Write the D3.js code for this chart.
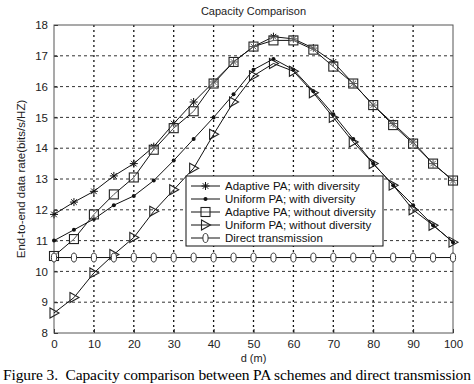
<!DOCTYPE html>
<html>
<head>
<meta charset="utf-8">
<script src="https://cdn.jsdelivr.net/npm/d3@7"></script>
<style>
  body { margin: 0; background: #fff; }
  svg { display: block; }
</style>
</head>
<body>
<div id="chart"></div>
<script>
const dist = d3.range(0, 101, 5);

const adaptiveDiv = [11.85, 12.25, 12.6, 13.1, 13.5, 14.05, 14.8, 15.5, 16.15, 16.8, 17.3, 17.62, 17.55, 17.25, 16.8, 16.1, 15.4, 14.8, 14.2, 13.5, 12.95];
const uniformDiv = [11.0, 11.35, 11.7, 12.15, 12.45, 12.95, 13.6, 14.3, 15.0, 15.75, 16.55, 16.9, 16.55, 15.85, 15.1, 14.3, 13.5, 12.8, 12.15, 11.5, 10.95];
const adaptiveNoDiv = [10.5, 11.05, 11.85, 12.5, 13.05, 13.95, 14.65, 15.2, 16.1, 16.8, 17.3, 17.5, 17.5, 17.2, 16.65, 16.1, 15.4, 14.75, 14.15, 13.5, 12.95];
const uniformNoDiv = [8.65, 9.15, 9.95, 10.55, 11.1, 11.95, 12.65, 13.35, 14.45, 15.5, 16.35, 16.75, 16.5, 15.8, 15.0, 14.2, 13.5, 12.8, 12.0, 11.5, 10.95];
const direct = [10.45, 10.45, 10.45, 10.45, 10.45, 10.45, 10.45, 10.45, 10.45, 10.45, 10.45, 10.45, 10.45, 10.45, 10.45, 10.45, 10.45, 10.45, 10.45, 10.45, 10.45];

const seriesNames = ["Adaptive PA; with diversity", "Uniform PA; with diversity", "Adaptive PA; without diversity", "Uniform PA; without diversity", "Direct transmission"];
const seriesValues = [adaptiveDiv, uniformDiv, adaptiveNoDiv, uniformNoDiv, direct];
const markerTypes = ["star", "dot", "square", "triangle", "diamond"];

const xTicks = [0, 10, 20, 30, 40, 50, 60, 70, 80, 90, 100];
const yTicks = [8, 9, 10, 11, 12, 13, 14, 15, 16, 17, 18];

const width = 474, height = 384;
const plotLeft = 54, plotRight = 453, plotTop = 25, plotBottom = 333;

const x = d3.scaleLinear().domain([0, 100]).range([plotLeft, plotRight]);
const y = d3.scaleLinear().domain([8, 18]).range([plotBottom, plotTop]);

const svg = d3.select("#chart").append("svg")
  .attr("width", width)
  .attr("height", height)
  .style("font-family", "Liberation Sans, Arial, sans-serif");

// grid
svg.append("g")
  .selectAll("line")
  .data(xTicks.slice(1, -1))
  .join("line")
  .attr("x1", d => x(d)).attr("x2", d => x(d))
  .attr("y1", plotTop).attr("y2", plotBottom)
  .attr("stroke", "#111")
  .attr("stroke-width", 1.3)
  .attr("stroke-dasharray", "2,3");

svg.append("g")
  .selectAll("line")
  .data(yTicks.slice(1, -1))
  .join("line")
  .attr("x1", plotLeft).attr("x2", plotRight)
  .attr("y1", d => y(d)).attr("y2", d => y(d))
  .attr("stroke", "#333")
  .attr("stroke-width", 1)
  .attr("stroke-dasharray", "3,3");

// axes
const xAxis = svg.append("g")
  .attr("transform", `translate(0,${plotBottom})`)
  .call(d3.axisBottom(x).tickValues(xTicks).tickSize(-4).tickPadding(7));
const yAxis = svg.append("g")
  .attr("transform", `translate(${plotLeft},0)`)
  .call(d3.axisLeft(y).tickValues(yTicks).tickSize(-4).tickPadding(6));

for (const ax of [xAxis, yAxis]) {
  ax.select(".domain").remove();
  ax.selectAll(".tick line").attr("stroke", "#222");
  ax.selectAll("text").attr("font-size", 11.5).attr("fill", "#222").style("font-family", "Liberation Sans, Arial, sans-serif");
}

// box
svg.append("rect")
  .attr("x", plotLeft).attr("y", plotTop)
  .attr("width", plotRight - plotLeft).attr("height", plotBottom - plotTop)
  .attr("fill", "none")
  .attr("stroke", "#555")
  .attr("stroke-width", 1);

function drawMarker(g, type, cx, cy) {
  if (type === "star") {
    const r = 4;
    g.append("path")
      .attr("d", `M${cx - r},${cy}H${cx + r}M${cx},${cy - r}V${cy + r}M${cx - r * 0.7},${cy - r * 0.7}L${cx + r * 0.7},${cy + r * 0.7}M${cx - r * 0.7},${cy + r * 0.7}L${cx + r * 0.7},${cy - r * 0.7}`)
      .attr("stroke", "#111").attr("stroke-width", 1).attr("fill", "none");
  } else if (type === "dot") {
    g.append("circle").attr("cx", cx).attr("cy", cy).attr("r", 2).attr("fill", "#111");
  } else if (type === "square") {
    g.append("rect").attr("x", cx - 4.5).attr("y", cy - 4.5).attr("width", 9).attr("height", 9)
      .attr("fill", "#fff").attr("fill-opacity", 0.3).attr("stroke", "#222").attr("stroke-width", 1.1);
  } else if (type === "triangle") {
    g.append("path").attr("d", `M${cx - 4},${cy - 5}L${cx + 5},${cy}L${cx - 4},${cy + 5}Z`)
      .attr("fill", "none").attr("stroke", "#222").attr("stroke-width", 1.1);
  } else if (type === "diamond") {
    g.append("ellipse").attr("cx", cx).attr("cy", cy).attr("rx", 2.6).attr("ry", 4.5)
      .attr("fill", "#fff").attr("stroke", "#333").attr("stroke-width", 1);
  }
}

const line = d3.line().x((d, i) => x(dist[i])).y(d => y(d));

seriesValues.forEach((vals, k) => {
  const g = svg.append("g");
  g.append("path")
    .attr("d", line(vals))
    .attr("fill", "none")
    .attr("stroke", "#111")
    .attr("stroke-width", 1);
  vals.forEach((v, i) => drawMarker(g, markerTypes[k], x(dist[i]), y(v)));
});

// legend
const lg = svg.append("g");
lg.append("rect")
  .attr("x", 186).attr("y", 176)
  .attr("width", 197).attr("height", 70)
  .attr("fill", "#fff")
  .attr("stroke", "#111")
  .attr("stroke-width", 1);

seriesNames.forEach((name, k) => {
  const ly = 186 + k * 13;
  lg.append("line")
    .attr("x1", 191).attr("x2", 220)
    .attr("y1", ly).attr("y2", ly)
    .attr("stroke", "#111").attr("stroke-width", 1);
  drawMarker(lg, markerTypes[k], 205.5, ly);
  lg.append("text")
    .attr("x", 225).attr("y", ly + 4)
    .attr("font-size", 11.5)
    .attr("fill", "#111")
    .text(name);
});

// labels
svg.append("text")
  .attr("x", (plotLeft + plotRight) / 2).attr("y", 15)
  .attr("text-anchor", "middle")
  .attr("font-size", 11)
  .attr("fill", "#222")
  .text("Capacity Comparison");

svg.append("text")
  .attr("x", (plotLeft + plotRight) / 2).attr("y", 362)
  .attr("text-anchor", "middle")
  .attr("font-size", 11)
  .attr("fill", "#222")
  .text("d (m)");

svg.append("text")
  .attr("transform", `translate(25,${(plotTop + plotBottom) / 2}) rotate(-90)`)
  .attr("text-anchor", "middle")
  .attr("font-size", 11.5)
  .attr("fill", "#222")
  .text("End-to-end data rate(bits/s/HZ)");

svg.append("text")
  .attr("x", 3).attr("y", 380)
  .attr("font-size", 15.5)
  .attr("fill", "#000")
  .style("font-family", "Liberation Serif, Times New Roman, serif")
  .attr("textLength", 468)
  .attr("xml:space", "preserve")
  .text("Figure 3.  Capacity comparison between PA schemes and direct transmission");
</script>
</body>
</html>
